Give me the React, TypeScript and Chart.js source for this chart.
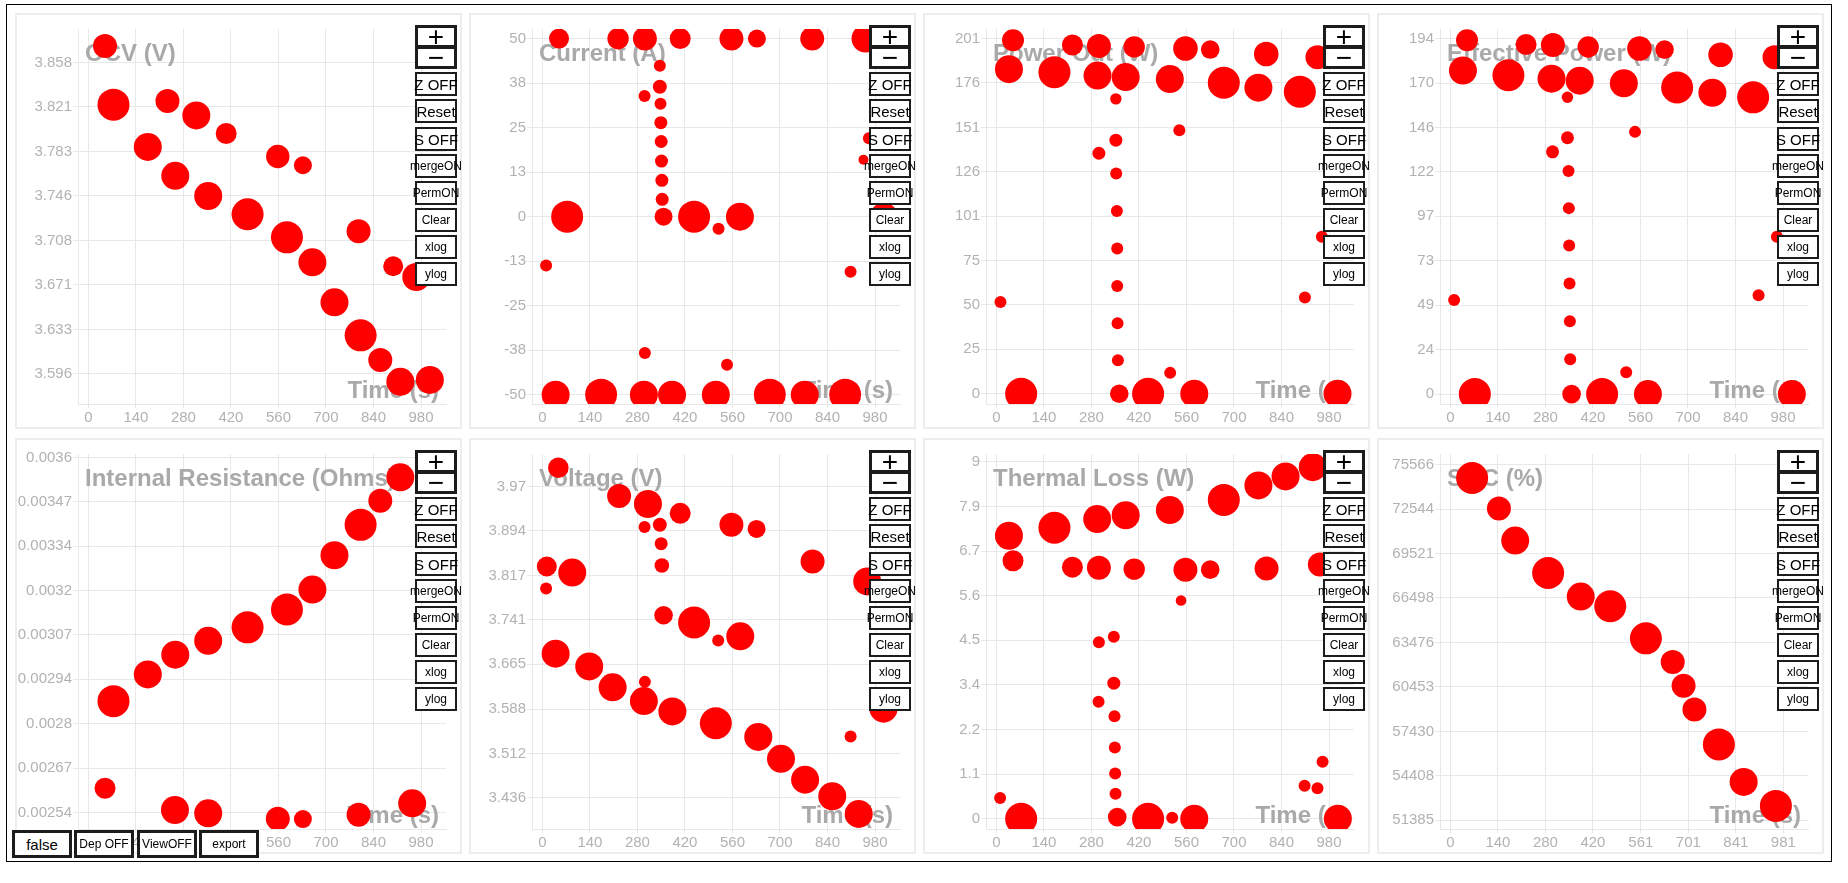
import React, { useEffect, useRef } from "react";
import { Chart, registerables } from "chart.js";

Chart.register(...registerables);

const FONT = "'Liberation Sans', Arial, Helvetica, sans-serif";
const TICK_COLOR = "#b2b2b2";
const GRID_COLOR = "#e8e8e8";
const TITLE_COLOR = "#a9a9a9";
const BUBBLE_COLOR = "#ff0000";

// ---------- shared x axis ----------
const timeTicks = [0, 140, 280, 420, 560, 700, 840, 980];
const socTimeTicks = [0, 140, 280, 420, 561, 701, 841, 981];
const timeMin = -30.6;
const timeMax = 1053.6;

// ---------- OCV (V) ----------
const ocvTime = [49, 74, 175, 233, 256, 318, 353, 406, 469, 558, 585, 632, 660, 725, 796, 802, 860, 898, 919, 966, 1006];
const ocvValue = [3.872, 3.8226, 3.787, 3.8256, 3.7627, 3.8135, 3.7457, 3.7983, 3.7303, 3.7789, 3.7109, 3.7716, 3.6899, 3.6562, 3.7161, 3.6284, 3.6076, 3.6866, 3.5893, 3.6775, 3.5909];
const ocvSize = [12, 16, 14, 12, 14, 14, 14, 10.5, 16, 11.7, 16, 9, 14, 14, 12, 16, 12, 10, 14, 14, 14];
const ocvTicks = [3.596, 3.633, 3.671, 3.708, 3.746, 3.783, 3.821, 3.858];
const ocvTickLabels = ["3.596", "3.633", "3.671", "3.708", "3.746", "3.783", "3.821", "3.858"];

// ---------- Current (A) ----------
const currentTime = [11, 39, 49, 73, 173, 223, 299, 301, 302, 302, 346, 346, 348, 349, 350, 351, 352, 353, 357, 382, 406, 447, 511, 519, 544, 557, 582, 632, 670, 773, 795, 892, 908, 946, 952, 962, 986, 1006];
const currentValue = [-13.7, -50, 50, 0, -50, 50, -50, 33.9, 50, -38.3, 42.4, 36.5, 31.7, 26.4, 21.1, 15.6, 10.2, 4.85, 0, -50, 50, 0, -50, -3.4, -41.6, 50, 0, 50, -50, -50, 50, -50, -15.5, 16, 50, 22, 37.5, 0];
const currentSize = [6, 14, 10, 16, 16, 10.7, 14, 6, 12, 6, 6, 7, 6, 6.5, 6.5, 6.5, 6.5, 6.5, 9, 14, 10.5, 16, 14, 6, 6, 12, 14, 9, 16, 14, 12, 16, 6, 5, 14, 6, 8, 14];
const currentTicks = [-50, -37.5, -25, -12.5, 0, 12.5, 25, 37.5, 50];
const currentTickLabels = ["-50", "-38", "-25", "-13", "0", "13", "25", "38", "50"];

// ---------- Power Out (W) ----------
const powerTime = [12, 37, 49, 73, 171, 224, 298, 302, 302, 352, 352, 353, 355, 356, 356, 357, 358, 362, 381, 406, 447, 511, 512, 539, 557, 583, 630, 670, 772, 795, 894, 909, 946, 959, 986, 1005];
const powerValue = [51.9, 183.7, 200.1, 0, 182, 197.4, 180.1, 196.8, 136.1, 166.9, 143.5, 124.6, 103.4, 82.2, 61.0, 39.9, 19.0, 0, 179.2, 196.3, 0, 178.1, 11.8, 149.1, 195.4, 0, 194.8, 176, 173.2, 192.3, 170.9, 54.4, 190.5, 88.9, 144.4, 0];
const powerSize = [6, 14, 11, 16, 16, 10.5, 14, 12, 6.5, 5.7, 6.5, 6, 6, 6, 6, 6, 6, 9.3, 14, 10.7, 16, 14, 6, 6, 12.3, 14, 9.3, 16, 14, 12.3, 16, 6, 12, 6, 8, 14];
const powerTicks = [0, 25.125, 50.25, 75.375, 100.5, 125.625, 150.75, 175.875, 201];
const powerTickLabels = ["0", "25", "50", "75", "101", "126", "151", "176", "201"];

// ---------- Effective Power (W) ----------
const effTime = [11, 37, 49, 72, 171, 223, 298, 301, 302, 345, 345, 348, 349, 350, 351, 352, 353, 357, 381, 406, 447, 511, 518, 544, 557, 582, 631, 668, 772, 796, 892, 908, 955, 962, 986, 1006];
const effValue = [51.5, 176.9, 193.5, 0, 174.4, 191.2, 172.5, 132.5, 190.9, 162.3, 140.2, 122.0, 101.7, 81.2, 60.5, 39.8, 19.1, 0, 171.4, 189.8, 0, 170.0, 11.9, 143.4, 189.0, 0, 188.4, 167.7, 164.8, 185.6, 162.3, 54.0, 184.2, 86.1, 141.3, 0];
const effSize = [6, 14, 11, 16, 16, 10.5, 14, 6.5, 12, 5.7, 6.5, 6, 6, 6, 6, 6, 6, 9.3, 14, 10.7, 16, 14, 6, 6, 12.3, 14, 9.3, 16, 14, 12.3, 16, 6, 12, 6, 8, 14];
const effTicks = [0, 24.3, 48.6, 72.9, 97.2, 121.5, 145.8, 170.1, 194.4];
const effTickLabels = ["0", "24", "49", "73", "97", "122", "146", "170", "194"];

// ---------- Internal Resistance (Ohms) ----------
const irTime = [49, 74, 175, 255, 256, 353, 353, 469, 558, 585, 632, 660, 725, 796, 802, 860, 919, 954, 1006];
const irValue = [0.002612, 0.0028723, 0.002952, 0.002547, 0.003011, 0.0030525, 0.002537, 0.0030927, 0.002521, 0.0031461, 0.00252, 0.0032056, 0.0033081, 0.002533, 0.0033989, 0.0034707, 0.0035408, 0.002567, 0.003536];
const irSize = [10.5, 16, 14, 14, 14, 14, 14, 16, 12, 16, 9, 14, 14, 12, 16, 12, 14, 14, 14];
const irTicks = [0.00254, 0.0026725, 0.002805, 0.0029375, 0.00307, 0.0032025, 0.003335, 0.0034675, 0.0036];
const irTickLabels = ["0.00254", "0.00267", "0.0028", "0.00294", "0.00307", "0.0032", "0.00334", "0.00347", "0.0036"];

// ---------- Voltage (V) ----------
const voltTime = [11, 13, 39, 47, 88, 138, 207, 226, 299, 301, 302, 311, 346, 350, 352, 357, 383, 406, 447, 511, 518, 557, 583, 631, 636, 703, 774, 796, 854, 908, 932, 957, 1005];
const voltValue = [3.7948, 3.8327, 3.6832, 4.002, 3.8223, 3.6613, 3.6255, 3.9535, 3.602, 3.9003, 3.6349, 3.9398, 3.9041, 3.8718, 3.8344, 3.7491, 3.5843, 3.9238, 3.7366, 3.564, 3.7058, 3.9041, 3.7129, 3.897, 3.5405, 3.503, 3.4673, 3.8414, 3.4388, 3.5414, 3.4086, 3.807, 3.589];
const voltSize = [6, 10, 14, 10.3, 14, 14, 14, 12, 14, 6, 6, 14, 7, 6.5, 7.3, 9.3, 14, 10.5, 16, 16, 6, 12, 14, 9, 14, 14, 14, 12, 14, 6, 14, 14, 14];
const voltTicks = [3.436, 3.512, 3.588, 3.665, 3.741, 3.817, 3.894, 3.97];
const voltTickLabels = ["3.436", "3.512", "3.588", "3.665", "3.741", "3.817", "3.894", "3.97"];

// ---------- Thermal Loss (W) ----------
const thermTime = [11, 37, 49, 73, 171, 224, 297, 301, 302, 302, 346, 346, 348, 349, 350, 351, 356, 381, 406, 447, 511, 518, 544, 557, 583, 630, 670, 772, 796, 852, 908, 932, 946, 953, 961, 1006];
const thermValue = [0.524, 7.139, 6.508, 0, 7.341, 6.346, 7.559, 2.95, 6.331, 4.454, 4.592, 3.42, 2.586, 1.795, 1.14, 0.63, 0.04, 7.656, 6.297, 0, 7.787, 0.024, 5.507, 6.283, 0, 6.283, 8.044, 8.408, 6.314, 8.636, 0.832, 8.869, 0.767, 6.411, 1.438, 0];
const thermSize = [6, 14, 10.5, 16, 16, 10.5, 14, 6, 12, 6, 6, 6.5, 6, 6, 6, 6, 9.3, 14, 10.7, 16, 14, 6, 5.3, 12, 14, 9.3, 16, 14, 12, 14, 6, 14, 6, 12, 6, 14];
const thermTicks = [0, 1.125, 2.25, 3.375, 4.5, 5.625, 6.75, 7.875, 9];
const thermTickLabels = ["0", "1.1", "2.2", "3.4", "4.5", "5.6", "6.7", "7.9", "9"];

// ---------- SOC (%) ----------
const socTime = [64, 143, 191, 288, 384, 471, 576, 655, 687, 719, 791, 864, 959];
const socValue = [74651, 72579, 70403, 68200, 66593, 65939, 63756, 62149, 60534, 58920, 56548, 53999, 52365];
const socSize = [16, 12, 14, 16, 14, 16, 16, 12, 12, 12, 16, 14, 16];
const socTicks = [51385, 54408, 57430, 60453, 63476, 66498, 69521, 72544, 75566];
const socTickLabels = ["51385", "54408", "57430", "60453", "63476", "66498", "69521", "72544", "75566"];

// ---------- layout ----------
const PANEL_W = 447;
const PANEL_H = 416;
const colLeft = [15, 469, 923, 1377];
const rowTop = [13, 438];

type Spec = {
  title: string;
  time: number[];
  value: number[];
  size: number[];
  yTicks: number[];
  yLabels: string[];
  yMin: number;
  yMax: number;
  xTicks: number[];
  left: number;
  top: number;
};

const specs: Spec[] = [
  { title: "OCV (V)", time: ocvTime, value: ocvValue, size: ocvSize, yTicks: ocvTicks, yLabels: ocvTickLabels, yMin: 3.5706, yMax: 3.8863, xTicks: timeTicks, left: colLeft[0], top: rowTop[0] },
  { title: "Current (A)", time: currentTime, value: currentValue, size: currentSize, yTicks: currentTicks, yLabels: currentTickLabels, yMin: -52.62, yMax: 52.7, xTicks: timeTicks, left: colLeft[1], top: rowTop[0] },
  { title: "Power Out (W)", time: powerTime, value: powerValue, size: powerSize, yTicks: powerTicks, yLabels: powerTickLabels, yMin: -5.82, yMax: 206.44, xTicks: timeTicks, left: colLeft[2], top: rowTop[0] },
  { title: "Effective Power (W)", time: effTime, value: effValue, size: effSize, yTicks: effTicks, yLabels: effTickLabels, yMin: -5.42, yMax: 199.66, xTicks: timeTicks, left: colLeft[3], top: rowTop[0] },
  { title: "Internal Resistance (Ohms)", time: irTime, value: irValue, size: irSize, yTicks: irTicks, yLabels: irTickLabels, yMin: 0.0024903, yMax: 0.0036106, xTicks: timeTicks, left: colLeft[0], top: rowTop[1] },
  { title: "Voltage (V)", time: voltTime, value: voltValue, size: voltSize, yTicks: voltTicks, yLabels: voltTickLabels, yMin: 3.3827, yMax: 4.0255, xTicks: timeTicks, left: colLeft[1], top: rowTop[1] },
  { title: "Thermal Loss (W)", time: thermTime, value: thermValue, size: thermSize, yTicks: thermTicks, yLabels: thermTickLabels, yMin: -0.2596, yMax: 9.2014, xTicks: timeTicks, left: colLeft[2], top: rowTop[1] },
  { title: "SOC (%)", time: socTime, value: socValue, size: socSize, yTicks: socTicks, yLabels: socTickLabels, yMin: 50797, yMax: 76285, xTicks: socTimeTicks, left: colLeft[3], top: rowTop[1] },
];

const panelButtons = [
  { label: "+", top: 12, height: 23, size: 28, border: 3 },
  { label: "\u2212", top: 33, height: 23, size: 28, border: 3 },
  { label: "Z OFF", top: 59, height: 24, size: 15, border: 2 },
  { label: "Reset", top: 86, height: 24, size: 15, border: 2 },
  { label: "S OFF", top: 114, height: 24, size: 15, border: 2 },
  { label: "mergeON", top: 141, height: 24, size: 12, border: 2 },
  { label: "PermON", top: 168, height: 24, size: 12, border: 2 },
  { label: "Clear", top: 195, height: 24, size: 12, border: 2 },
  { label: "xlog", top: 222, height: 24, size: 12, border: 2 },
  { label: "ylog", top: 249, height: 24, size: 12, border: 2 },
];

const footerButtons = [
  { label: "false", left: 12, size: 15 },
  { label: "Dep OFF", left: 74, size: 12 },
  { label: "ViewOFF", left: 137, size: 12 },
  { label: "export", left: 199, size: 12 },
];

function overlayPlugin(title: string) {
  return {
    id: "overlayTitles",
    beforeDatasetsDraw(chart: any) {
      const { ctx, chartArea: a } = chart;
      ctx.save();
      ctx.font = `bold 24px ${FONT}`;
      ctx.fillStyle = TITLE_COLOR;
      ctx.textBaseline = "alphabetic";
      ctx.textAlign = "left";
      ctx.fillText(title, a.left + 7, a.top + 32);
      ctx.textAlign = "right";
      ctx.fillText("Time (s)", a.right - 7, a.bottom - 6);
      ctx.restore();
    },
  };
}

function BoxButton(props: { label: string; left: number; top: number; width: number; height: number; size: number; border: number }) {
  const { label, left, top, width, height, size, border } = props;
  return (
    <div
      style={{
        position: "absolute",
        left,
        top,
        width,
        height,
        boxSizing: "border-box",
        border: `${border}px solid #1c1c1c`,
        background: "#fff",
        display: "flex",
        alignItems: "center",
        justifyContent: "center",
        fontFamily: FONT,
        fontSize: size,
        lineHeight: 1,
        color: "#000",
        whiteSpace: "nowrap",
        overflow: "visible",
      }}
    >
      <span>{label}</span>
    </div>
  );
}

function Panel({ spec }: { spec: Spec }) {
  const ref = useRef<HTMLCanvasElement>(null);
  useEffect(() => {
    const canvas = ref.current;
    if (!canvas) return;
    const points = spec.time.map((t, i) => ({ x: t, y: spec.value[i], r: spec.size[i] }));
    const chart = new Chart(canvas, {
      type: "bubble",
      data: {
        datasets: [
          {
            data: points,
            backgroundColor: BUBBLE_COLOR,
            borderColor: BUBBLE_COLOR,
            borderWidth: 0,
          },
        ],
      },
      options: {
        animation: false,
        responsive: false,
        maintainAspectRatio: false,
        events: [],
        layout: { padding: { top: 1, right: 1, bottom: 0, left: 0 } },
        plugins: {
          legend: { display: false },
          tooltip: { enabled: false },
        },
        scales: {
          x: {
            type: "linear",
            position: "bottom",
            min: timeMin,
            max: timeMax,
            afterBuildTicks: (s: any) => {
              s.ticks = spec.xTicks.map((v) => ({ value: v }));
            },
            afterFit: (s: any) => {
              s.height = 25;
              s.paddingLeft = 0;
              s.paddingRight = 0;
            },
            ticks: {
              autoSkip: false,
              maxRotation: 0,
              padding: 1,
              color: TICK_COLOR,
              font: { size: 15, family: FONT },
              callback: (v: any) => String(v),
            },
            grid: { color: GRID_COLOR, tickLength: 4 },
            border: { color: GRID_COLOR },
          },
          y: {
            type: "linear",
            min: spec.yMin,
            max: spec.yMax,
            afterBuildTicks: (s: any) => {
              s.ticks = spec.yTicks.map((v) => ({ value: v }));
            },
            afterFit: (s: any) => {
              s.width = 63;
              s.paddingTop = 0;
              s.paddingBottom = 0;
            },
            ticks: {
              autoSkip: false,
              padding: 1,
              color: TICK_COLOR,
              font: { size: 15, family: FONT },
              callback: (_v: any, i: number) => spec.yLabels[i],
            },
            grid: { color: GRID_COLOR, tickLength: 5 },
            border: { color: GRID_COLOR },
          },
        },
      } as any,
      plugins: [overlayPlugin(spec.title)],
    } as any);
    return () => chart.destroy();
  }, [spec]);

  return (
    <div style={{ position: "absolute", left: spec.left, top: spec.top, width: PANEL_W, height: PANEL_H }}>
      <div
        style={{
          position: "absolute",
          left: 0,
          top: 0,
          width: PANEL_W,
          height: PANEL_H,
          boxSizing: "border-box",
          border: "2px solid #ededed",
        }}
      />
      <canvas
        ref={ref}
        width={PANEL_W}
        height={PANEL_H}
        style={{ position: "absolute", left: 0, top: 0, width: PANEL_W, height: PANEL_H, display: "block" }}
      />
      {panelButtons.map((b) => (
        <BoxButton key={b.label} label={b.label} left={400} top={b.top} width={42} height={b.height} size={b.size} border={b.border} />
      ))}
    </div>
  );
}

export default function App() {
  return (
    <div style={{ position: "absolute", left: 0, top: 0, width: 1848, height: 883, background: "#fff", overflow: "hidden" }}>
      <div
        style={{
          position: "absolute",
          left: 6,
          top: 4,
          width: 1826,
          height: 858,
          boxSizing: "border-box",
          border: "1px solid #000",
        }}
      />
      {specs.map((s) => (
        <Panel key={s.title} spec={s} />
      ))}
      {footerButtons.map((b) => (
        <BoxButton key={b.label} label={b.label} left={b.left} top={830} width={60} height={28} size={b.size} border={3} />
      ))}
    </div>
  );
}
